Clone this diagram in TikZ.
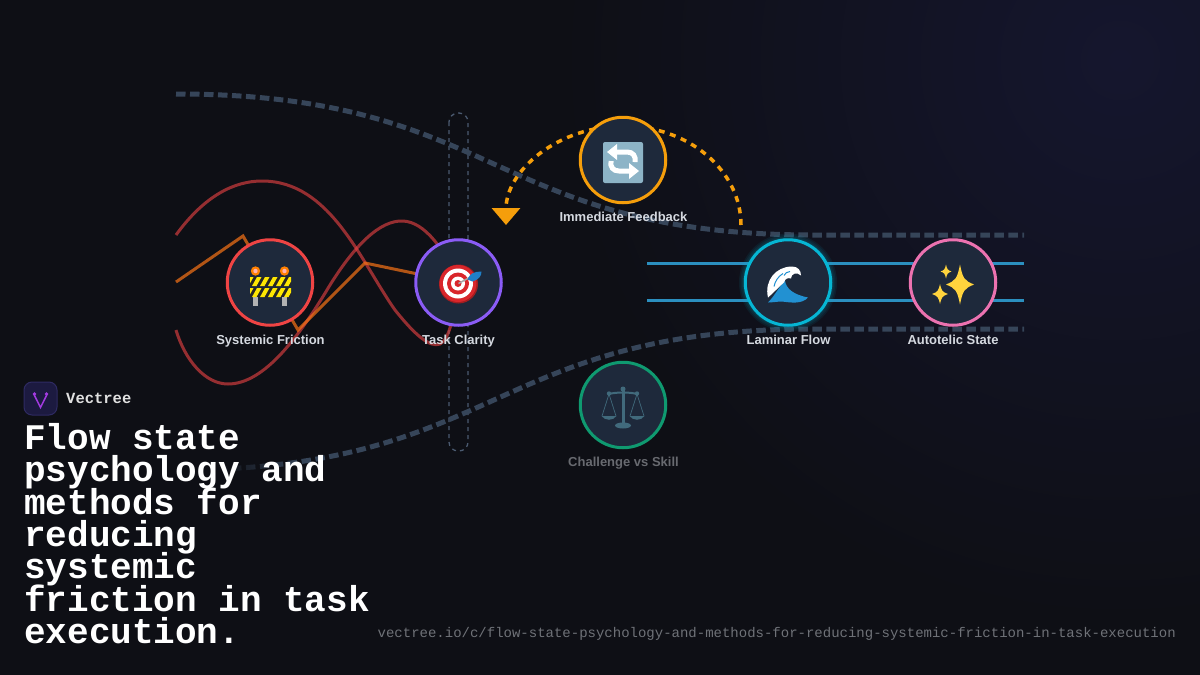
\documentclass[tikz,border=0pt]{standalone}
\usepackage{fontspec}
\setmainfont{Liberation Sans}
\setmonofont{Liberation Mono}
\usetikzlibrary{arrows.meta, calc, fadings}
\normallineskiplimit=-100pt
\lineskiplimit=-100pt
\definecolor{bgdark}{HTML}{0E0F15}
\definecolor{bgblue}{HTML}{15162E}
\definecolor{slatefill}{HTML}{1E293B}
\definecolor{tubeslate}{HTML}{364559}
\definecolor{capsulegrey}{HTML}{4B5A70}
\definecolor{frictionred}{HTML}{EF4444}
\definecolor{clarityviolet}{HTML}{8B5CF6}
\definecolor{feedbackamber}{HTML}{F59E0B}
\definecolor{flowcyan}{HTML}{06B6D4}
\definecolor{autopink}{HTML}{EC72B0}
\definecolor{skillgreen}{HTML}{0F9A70}
\definecolor{streamblue}{HTML}{2B8FBF}
\definecolor{jagorange}{HTML}{F97316}
\definecolor{labelgrey}{HTML}{D5D9E0}
\definecolor{urlgrey}{HTML}{6F7278}
\definecolor{refreshblue}{HTML}{8DB4C7}
\definecolor{scalesteel}{HTML}{416A7C}
\definecolor{goldstar}{HTML}{FFD33D}
\definecolor{waveblue}{HTML}{2291D2}
\definecolor{dartblue}{HTML}{2080C8}
\definecolor{targetred}{HTML}{D9262B}
\definecolor{logofill}{HTML}{1C1A40}
\definecolor{logoline}{HTML}{2E2A62}
\definecolor{logopurple}{HTML}{A23BE0}
\tikzset{
  stage/.style={circle,fill=slatefill,draw=#1,line width=3pt,minimum size=85.5pt,inner sep=0pt},
  nodelabel/.style={anchor=base,font=\bfseries\fontsize{13}{15}\selectfont,text=labelgrey,inner sep=0pt},
  tube/.style={draw=tubeslate,line width=5pt,dash pattern=on 9.5pt off 4.5pt},
  stream/.style={draw=streamblue,line width=3pt},
  wobble/.style={draw=frictionred,opacity=0.6,line width=3pt},
  jag/.style={draw=jagorange,opacity=0.7,line width=3pt,line join=miter}
}
\begin{document}
\begin{tikzpicture}[x=1pt,y=-1pt]
  \useasboundingbox (0,0) rectangle (1200,675);
  \fill[bgdark] (0,0) rectangle (1200,675);
  % background glow, top right
  \begin{scope}
    \clip (0,0) rectangle (1200,675);
    \shade[inner color=bgblue,outer color=bgdark] (1120,60) circle (560);
  \end{scope}
  % free ends
  \coordinate (tubeA) at (176,94);
  \coordinate (tubeB) at (814,235);
  \coordinate (tubeC) at (1024,235);
  \coordinate (tubeD) at (176,470);
  \coordinate (tubeE) at (814,329);
  \coordinate (tubeF) at (1024,329);
  \coordinate (jagA) at (176,282);
  \coordinate (jagB) at (243,236);
  \coordinate (jagC) at (298,330);
  \coordinate (jagD) at (365,263);
  \coordinate (streamA) at (647,263.5);
  \coordinate (streamB) at (1024,263.5);
  \coordinate (streamC) at (647,300.5);
  \coordinate (streamD) at (1024,300.5);
  \coordinate (loopA) at (741,225);
  \coordinate (wobA) at (176,235);
  \coordinate (wobB) at (176,330);
  % nodes come later, so keep their centres here
  \coordinate (c-clarity) at (458.5,282.5);
  % capsule
  \draw[draw=capsulegrey,line width=1.3pt,dash pattern=on 4pt off 4pt,rounded corners=9pt] (449,113) rectangle (468,451);
  % tube
  \draw[tube] (tubeA) .. controls (501,94) and (489,235) .. (tubeB) -- (tubeC);
  \draw[tube] (tubeD) .. controls (501,470) and (489,329) .. (tubeE) -- (tubeF);
  % lower tube dies out under the title
  \fill[bgdark] (170,455) rectangle (225,482);
  \fill[bgdark,path fading=east] (215,455) rectangle (305,482);
  % friction
  \draw[wobble] (wobA) .. controls (205,195) and (235,181) .. (262,181) .. controls (330,181) and (360,260) .. (395,310) .. controls (415,335) and (430,348) .. (440,344) .. controls (450,340) and (455,310) .. (c-clarity);
  \draw[wobble] (wobB) .. controls (185,360) and (205,384) .. (228,384) .. controls (265,384) and (300,335) .. (330,285) .. controls (355,245) and (380,220) .. (403,221) .. controls (425,222) and (445,250) .. (c-clarity);
  \draw[jag] (jagA) -- (jagB) -- (jagC) -- (jagD) -- (c-clarity);
  % laminar
  \draw[stream] (streamA) -- (streamB);
  \draw[stream] (streamC) -- (streamD);
  % feedback loop
  \draw[draw=feedbackamber,line width=3.5pt,dash pattern=on 6pt off 5.7pt,-{Triangle[length=17pt,width=28pt]}] (loopA) arc[start angle=0,end angle=-180,x radius=117.5,y radius=99];
  % glow
  \foreach \r in {49,47.5,46,45} {
    \fill[flowcyan,opacity=0.08] (788,282.5) circle (\r);
  }
  % stages
  \node[stage=frictionred] (friction) at (270,282.5) {};
  \node[stage=clarityviolet] (clarity) at (458.5,282.5) {};
  \node[stage=feedbackamber] (feedback) at (623,160) {};
  \node[stage=flowcyan] (laminar) at (788,282.5) {};
  \node[stage=autopink] (autotelic) at (953,282.5) {};
  \node[nodelabel] (frictionlabel) at (270.5,344) {Systemic Friction};
  \node[nodelabel] (claritylabel) at (458.5,344) {Task Clarity};
  \node[nodelabel] (feedbacklabel) at (623.5,221.5) {Immediate Feedback};
  \node[nodelabel] (laminarlabel) at (788.5,344) {Laminar Flow};
  \node[nodelabel] (autotelilabel) at (953,344) {Autotelic State};
  % challenge stage, dimmed
  \node[stage=skillgreen] (challenge) at (623,405) {};
  \node[nodelabel,text=labelgrey!45!bgdark] (challengelabel) at (623.5,466) {Challenge vs Skill};
  \begin{scope}[shift={(challenge.center)}]
    \fill[scalesteel] (-1.5,-15) rectangle (1.5,20);
    \fill[scalesteel] (0,20.5) ellipse (8 and 3);
    \draw[scalesteel,line width=2pt] (-14,-11) .. controls (-7,-13) and (7,-13) .. (14,-11);
    \foreach \sx in {-14,14} {
      \fill[scalesteel] (\sx,-11.5) circle (2.2);
      \draw[scalesteel,line width=0.7pt] (\sx-7,11) -- (\sx,-11) -- (\sx+7,11);
      \fill[scalesteel] (\sx-7.5,11) .. controls (\sx-4,16) and (\sx+4,16) .. (\sx+7.5,11) -- cycle;
    }
    \fill[scalesteel] (0,-16) circle (2.5);
  \end{scope}
  % barrier
  \begin{scope}[shift={(friction.center)}]
    \fill[gray!60] (-17,12) rectangle (-12,23);
    \fill[gray!60] (12,12) rectangle (17,23);
    \foreach \sx in {-14.5,14.5} {
      \fill[orange] (\sx,-11.5) circle (4.7);
      \fill[red!30!white] (\sx,-11.5) circle (2.2);
    }
    \foreach \by in {-5.5,5.5} {
      \begin{scope}
        \clip (-20,\by) rectangle (21,\by+9);
        \fill[black!85] (-20,\by) rectangle (21,\by+9);
        \foreach \sx in {-26,-18,...,22} {
          \fill[yellow!90!orange] (\sx,\by+9) -- (\sx+4.5,\by+9) -- (\sx+9.5,\by) -- (\sx+5,\by) -- cycle;
        }
      \end{scope}
    }
  \end{scope}
  % target
  \begin{scope}[shift={(clarity.center)}]
    \fill[targetred!75!black] (0,1.5) circle (19.5);
    \fill[targetred] (-0.5,1) circle (18.5);
    \fill[white] (-0.5,1) circle (15);
    \fill[targetred] (-0.5,1) circle (11);
    \fill[white] (-0.5,1) circle (7);
    \fill[targetred] (-0.5,1) circle (3.5);
    \draw[gray!70,line width=1.5pt] (0,1) -- (11,-5);
    \fill[dartblue] (9,-3) .. controls (11,-9) and (16,-11) .. (23,-11) .. controls (23,-6) and (20,-3) .. (14,-1) -- cycle;
  \end{scope}
  % refresh square
  \begin{scope}[shift={(feedback.center)}]
    \fill[refreshblue,rounded corners=2pt] (-20,-18) rectangle (20,23);
    \draw[white,line width=5pt] (-8,-8) -- (4,-8) .. controls (10,-8) and (13,-4) .. (12,2);
    \fill[white] (-16,-8) -- (-6,-16) -- (-6,0) -- cycle;
    \draw[white,line width=5pt] (8,11) -- (-4,11) .. controls (-10,11) and (-13,7) .. (-12,1);
    \fill[white] (16,11) -- (6,3) -- (6,19) -- cycle;
  \end{scope}
  % wave
  \begin{scope}[shift={(laminar.center)}]
    \fill[waveblue] (-20,20) .. controls (-14,14) and (-10,6) .. (-3,-2) .. controls (-2,6) and (5,12) .. (20,15) .. controls (14,22) and (2,20) .. (-6,19) .. controls (-10,19) and (-16,20) .. (-20,20) -- cycle;
    \fill[white] (-20,15) .. controls (-24,-2) and (-12,-16) .. (4,-16) .. controls (10,-16) and (13,-12) .. (13,-7) .. controls (9,-11) and (3,-9) .. (3,-4) .. controls (0,-5) and (-3,-4) .. (-4,0) .. controls (-9,4) and (-14,10) .. (-20,15) -- cycle;
    \draw[waveblue,line width=1pt] (-5,-9) .. controls (-10,-6) and (-13,-1) .. (-14,4);
    \draw[waveblue,line width=1pt] (2,-11) .. controls (-1,-11) and (-3,-9) .. (-4,-7);
  \end{scope}
  % sparkles
  \foreach \sx/\sy/\sw/\sh in {960/284.5/14/20,940/294/8/10,946/271.5/5.5/7} {
    \fill[goldstar] (\sx,\sy-\sh) .. controls (\sx+0.2*\sw,\sy-0.3*\sh) and (\sx+0.3*\sw,\sy-0.2*\sh) .. (\sx+\sw,\sy) .. controls (\sx+0.3*\sw,\sy+0.2*\sh) and (\sx+0.2*\sw,\sy+0.3*\sh) .. (\sx,\sy+\sh) .. controls (\sx-0.2*\sw,\sy+0.3*\sh) and (\sx-0.3*\sw,\sy+0.2*\sh) .. (\sx-\sw,\sy) .. controls (\sx-0.3*\sw,\sy-0.2*\sh) and (\sx-0.2*\sw,\sy-0.3*\sh) .. (\sx,\sy-\sh) -- cycle;
  }
  % brand
  \node[draw=logoline,fill=logofill,rounded corners=8pt,minimum size=33pt,inner sep=0pt,line width=1pt] (logo) at (40.5,398.5) {};
  \begin{scope}[shift={(logo.center)}]
    \draw[logopurple,line width=1.4pt] (-7,-5) -- (0,9) -- (7,-5);
    \draw[logopurple,line width=1pt] (-3.5,2) -- (-6,-3) (3.5,2) -- (6,-3);
    \fill[logopurple] (-6,-4.5) circle (1.9) (6,-4.5) circle (1.9);
  \end{scope}
  \node[anchor=base west,inner sep=0pt,text=white!88!black,font=\ttfamily\bfseries\fontsize{15.5}{18}\selectfont] (brand) at (66,403.5) {Vectree};
  \node[anchor=north west,inner sep=0pt,text=white,align=left,font=\ttfamily\bfseries\fontsize{36}{32.4}\selectfont] (title) at (24,423) {Flow state\\psychology and\\methods for\\reducing\\systemic\\friction in task\\execution.};
  \node[anchor=base east,inner sep=0pt,text=urlgrey,font=\ttfamily\fontsize{14}{16}\selectfont] (url) at (1176,637) {vectree.io/c/flow-state-psychology-and-methods-for-reducing-systemic-friction-in-task-execution};
\end{tikzpicture}
\end{document}
